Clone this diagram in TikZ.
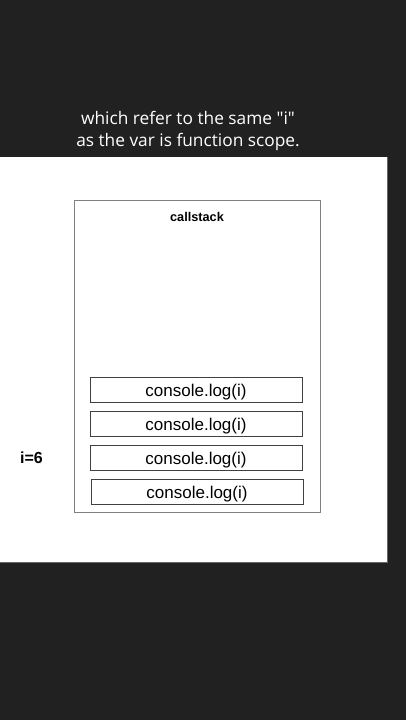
\documentclass[tikz,border=0pt]{standalone}
\usepackage{fontspec}
\setmainfont{Liberation Sans}
\newfontfamily\capfont{Open Sans}
\definecolor{bgdark}{HTML}{212121}
\definecolor{boxgray}{HTML}{808080}
\begin{document}
\begin{tikzpicture}[x=1pt,y=-1pt,
  stackitem/.style={draw=black!75,line width=0.8pt,minimum width=212pt,minimum height=25pt,inner sep=0pt,text height=17.4pt,text depth=3.6pt,font=\fontsize{17}{20}\selectfont},
  captext/.style={text=white,font=\capfont\fontsize{17.3}{22}\selectfont,align=center}]
\fill[bgdark] (0,0) rectangle (406,720);
\useasboundingbox (0,0) rectangle (406,720);
\fill[white] (0,157) rectangle (387,562);
\draw[black!60,line width=0.8pt] (387,157) -- (387,562) -- (0,562);
\node[captext] (caption) at (188,131) {which refer to the same "i"\\as the var is function scope.};
\node[draw=boxgray,line width=0.8pt,minimum width=246pt,minimum height=312pt,inner sep=0pt] (stack) at (197,356) {};
\node[font=\bfseries\fontsize{12.7}{15}\selectfont] (title) at (197,217) {callstack};
\node[stackitem] (c1) at (196,389.5) {console.log(i)};
\node[stackitem] (c2) at (196,423.5) {console.log(i)};
\node[stackitem] (c3) at (196,457.5) {console.log(i)};
\node[stackitem] (c4) at (197,491.5) {console.log(i)};
\node[font=\bfseries\fontsize{16}{18}\selectfont] (ival) at (31.5,458) {i=6};
\end{tikzpicture}
\end{document}
